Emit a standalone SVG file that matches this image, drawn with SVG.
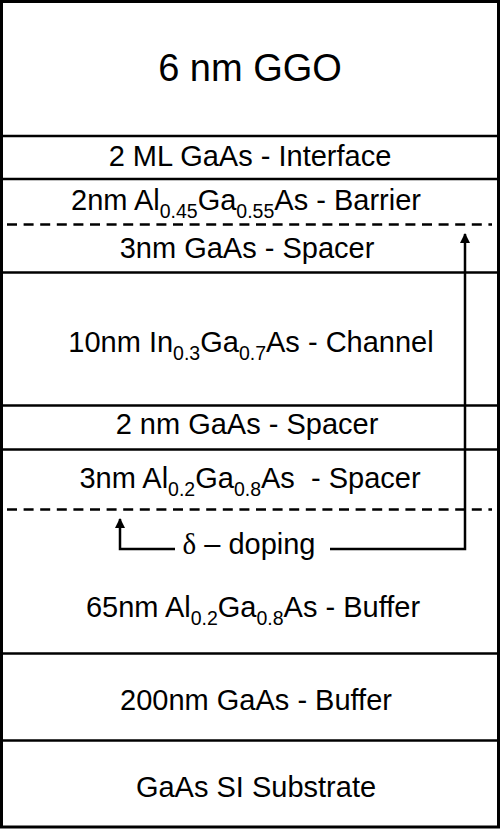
<svg xmlns="http://www.w3.org/2000/svg" width="500" height="829" viewBox="0 0 500 829">
<style>
text{font-family:"Liberation Sans",Arial,sans-serif;fill:#000;text-anchor:middle}
.l{font-size:29px}
.s{font-size:19.5px}
.g{font-family:"Liberation Serif","Times New Roman",serif}
.sep{stroke:#000;stroke-width:2.5}
.dash{stroke:#000;stroke-width:2.5;stroke-dasharray:10 6.6;fill:none}
.conn{stroke:#000;stroke-width:2.5;fill:none}
</style>
<defs>
<marker id="ah" viewBox="0 0 10 10" refX="9" refY="5" markerWidth="4.5" markerHeight="4" orient="auto" markerUnits="strokeWidth">
<path d="M0,0 L10,5 L0,10 z" fill="#000"/>
</marker>
</defs>
<rect x="1.5" y="1.5" width="497" height="825.5" fill="#fff" stroke="#000" stroke-width="3"/>
<g id="ggo"><text x="250" y="81" style="font-size:38px">6 nm GGO</text></g>
<line class="sep" x1="0" y1="136" x2="500" y2="136"/>
<g id="interface"><text class="l" x="250" y="166">2 ML GaAs - Interface</text></g>
<line class="sep" x1="0" y1="179" x2="500" y2="179"/>
<g id="barrier"><text class="l" x="246" y="210">2nm Al<tspan class="s" dy="8">0.45</tspan><tspan dy="-8">Ga</tspan><tspan class="s" dy="8">0.55</tspan><tspan dy="-8">As - Barrier</tspan></text></g>
<g id="spacer3"><text class="l" x="247" y="258">3nm GaAs - Spacer</text></g>
<line class="sep" x1="0" y1="272.5" x2="500" y2="272.5"/>
<g id="channel"><text class="l" x="251" y="352">10nm In<tspan class="s" dy="8">0.3</tspan><tspan dy="-8">Ga</tspan><tspan class="s" dy="8">0.7</tspan><tspan dy="-8">As - Channel</tspan></text></g>
<line class="sep" x1="0" y1="405.5" x2="500" y2="405.5"/>
<g id="spacer2"><text class="l" x="247" y="434">2 nm GaAs - Spacer</text></g>
<line class="sep" x1="0" y1="449.5" x2="500" y2="449.5"/>
<g id="algaas-spacer"><text class="l" x="250" y="488" xml:space="preserve">3nm Al<tspan class="s" dy="8">0.2</tspan><tspan dy="-8">Ga</tspan><tspan class="s" dy="8">0.8</tspan><tspan dy="-8">As  - Spacer</tspan></text></g>
<g id="doping"><text class="l" x="249" y="554"><tspan class="g">δ</tspan> – doping</text></g>
<g id="buffer65"><text class="l" x="253" y="617">65nm Al<tspan class="s" dy="8">0.2</tspan><tspan dy="-8">Ga</tspan><tspan class="s" dy="8">0.8</tspan><tspan dy="-8">As - Buffer</tspan></text></g>
<line class="sep" x1="0" y1="653.5" x2="500" y2="653.5"/>
<g id="buffer200"><text class="l" x="256" y="710">200nm GaAs - Buffer</text></g>
<line class="sep" x1="0" y1="740.5" x2="500" y2="740.5"/>
<g id="substrate"><text class="l" x="256" y="797">GaAs SI Substrate</text></g>
<g id="connectors">
<line class="dash" x1="7" y1="224.5" x2="492" y2="224.5"/>
<line class="dash" x1="7" y1="509.5" x2="492" y2="509.5"/>
<polyline class="conn" points="330,549 465,549 465,234" marker-end="url(#ah)"/>
<polyline class="conn" points="175,549 120,549 120,519" marker-end="url(#ah)"/>
</g>
</svg>
